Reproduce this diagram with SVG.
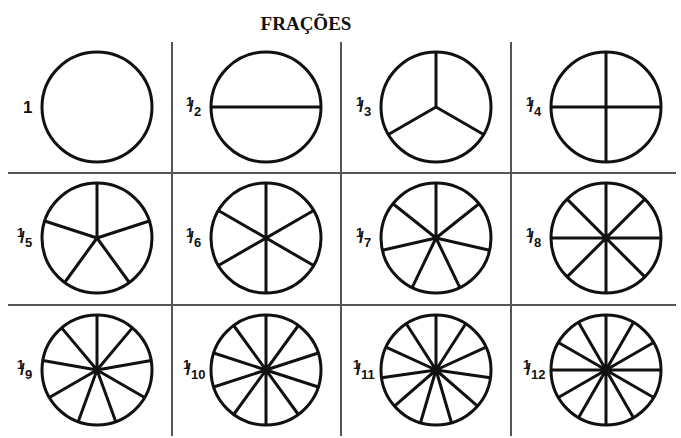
<svg xmlns="http://www.w3.org/2000/svg" xmlns:xlink="http://www.w3.org/1999/xlink" width="681" height="438" viewBox="0 0 681 438">
<style>
.c{fill:none;stroke:#111;stroke-width:3}
.g{stroke:#555;stroke-width:2}
.l{font-family:"Liberation Sans",Arial,sans-serif;font-weight:bold;font-size:17px;fill:#111}
.s{font-size:13px}
</style>
<defs>
<g id="c1"><circle class="c" r="55"/></g>
<path id="p2" class="c" d="M-55 0H55"/>
<path id="p3" class="c" d="M0 0V-55M0 0L47.63 27.5M0 0L-47.63 27.5"/>
<path id="p4" class="c" d="M0 -55V55M-55 0H55"/>
<path id="p5" class="c" d="M0 0V-55M0 0L52.31 -17M0 0L32.33 44.5M0 0L-32.33 44.5M0 0L-52.31 -17"/>
<path id="p6" class="c" d="M0 -55V55M47.63 -27.5L-47.63 27.5M47.63 27.5L-47.63 -27.5"/>
<path id="p7" class="c" d="M0 0V-55M0 0L43 -34.29M0 0L53.62 12.24M0 0L23.86 49.56M0 0L-23.86 49.56M0 0L-53.62 12.24M0 0L-43 -34.29"/>
<path id="p8" class="c" d="M0 -55V55M-55 0H55M38.89 -38.89L-38.89 38.89M38.89 38.89L-38.89 -38.89"/>
<path id="p9" class="c" d="M0 0V-55M0 0L35.35 -42.13M0 0L54.16 -9.55M0 0L47.63 27.5M0 0L18.81 51.68M0 0L-18.81 51.68M0 0L-47.63 27.5M0 0L-54.16 -9.55M0 0L-35.35 -42.13"/>
<path id="p10" class="c" d="M0 -55V55M32.33 -44.5L-32.33 44.5M52.31 -17L-52.31 17M52.31 17L-52.31 -17M32.33 44.5L-32.33 -44.5"/>
<path id="p11" class="c" d="M0 0V-55M0 0L29.73 -46.27M0 0L50.03 -22.85M0 0L54.44 7.83M0 0L41.56 36.02M0 0L15.49 52.77M0 0L-15.49 52.77M0 0L-41.56 36.02M0 0L-54.44 7.83M0 0L-50.03 -22.85M0 0L-29.73 -46.27"/>
<path id="p12" class="c" d="M0 -55V55M-55 0H55M27.5 -47.63L-27.5 47.63M47.63 -27.5L-47.63 27.5M47.63 27.5L-47.63 -27.5M27.5 47.63L-27.5 -47.63"/>
</defs>
<rect width="681" height="438" fill="#fff"/>
<text x="306" y="30" text-anchor="middle" font-family="'Liberation Serif',serif" font-weight="bold" font-size="19" fill="#111">FRAÇÕES</text>
<g id="grid">
<path class="g" d="M172 42V436M341 42V436M511 42V436M8 173H676M8 305H676"/>
</g>
<g id="n1"><use xlink:href="#c1" x="97" y="107"/><text class="l" x="23" y="113" font-size="15">1</text></g>
<g id="n2"><use xlink:href="#c1" x="266" y="107"/><use xlink:href="#p2" x="266" y="107"/><text class="l s" x="186" y="106">1</text><text class="l" x="189" y="112">/</text><text class="l s" x="194" y="116">2</text></g>
<g id="n3"><use xlink:href="#c1" x="436" y="107"/><use xlink:href="#p3" x="436" y="107"/><text class="l s" x="356" y="106">1</text><text class="l" x="359" y="112">/</text><text class="l s" x="364" y="116">3</text></g>
<g id="n4"><use xlink:href="#c1" x="606" y="107"/><use xlink:href="#p4" x="606" y="107"/><text class="l s" x="526" y="106">1</text><text class="l" x="529" y="112">/</text><text class="l s" x="534" y="116">4</text></g>
<g id="n5"><use xlink:href="#c1" x="97" y="238"/><use xlink:href="#p5" x="97" y="238"/><text class="l s" x="17" y="237">1</text><text class="l" x="20" y="243">/</text><text class="l s" x="25" y="247">5</text></g>
<g id="n6"><use xlink:href="#c1" x="266" y="238"/><use xlink:href="#p6" x="266" y="238"/><text class="l s" x="186" y="237">1</text><text class="l" x="189" y="243">/</text><text class="l s" x="194" y="247">6</text></g>
<g id="n7"><use xlink:href="#c1" x="436" y="238"/><use xlink:href="#p7" x="436" y="238"/><text class="l s" x="356" y="237">1</text><text class="l" x="359" y="243">/</text><text class="l s" x="364" y="247">7</text></g>
<g id="n8"><use xlink:href="#c1" x="606" y="238"/><use xlink:href="#p8" x="606" y="238"/><text class="l s" x="526" y="237">1</text><text class="l" x="529" y="243">/</text><text class="l s" x="534" y="247">8</text></g>
<g id="n9"><use xlink:href="#c1" x="97" y="370"/><use xlink:href="#p9" x="97" y="370"/><text class="l s" x="17" y="369">1</text><text class="l" x="20" y="375">/</text><text class="l s" x="25" y="379">9</text></g>
<g id="n10"><use xlink:href="#c1" x="266" y="370"/><use xlink:href="#p10" x="266" y="370"/><text class="l s" x="183" y="369">1</text><text class="l" x="186" y="375">/</text><text class="l s" x="191" y="379">10</text></g>
<g id="n11"><use xlink:href="#c1" x="436" y="370"/><use xlink:href="#p11" x="436" y="370"/><text class="l s" x="353" y="369">1</text><text class="l" x="356" y="375">/</text><text class="l s" x="361" y="379">11</text></g>
<g id="n12"><use xlink:href="#c1" x="606" y="370"/><use xlink:href="#p12" x="606" y="370"/><text class="l s" x="523" y="369">1</text><text class="l" x="526" y="375">/</text><text class="l s" x="531" y="379">12</text></g>
</svg>
